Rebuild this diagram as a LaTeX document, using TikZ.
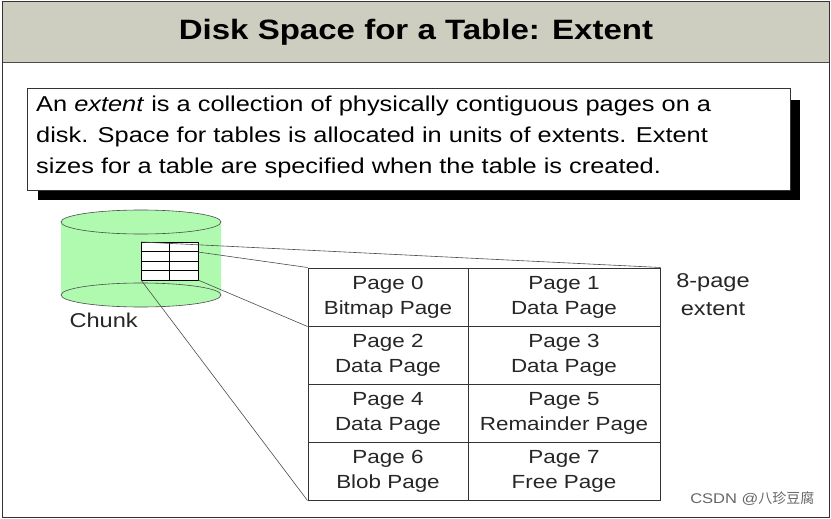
\documentclass[tikz,border=0pt]{standalone}
\usepackage{fontspec}
\setmainfont[FakeStretch=1.18]{Liberation Sans}
\newfontfamily\cjk{Noto Sans CJK SC}
\begin{document}
\begin{tikzpicture}[x=1pt,y=-1pt,
  cell/.style={draw=black!80,line width=1pt,minimum width=160pt,minimum height=58pt,inner sep=0pt,align=center,font=\fontsize{19}{25}\selectfont,text=black!85},
  thin/.style={draw=black!70,line width=0.6pt}]
\useasboundingbox (0,0) rectangle (831,519);
\fill[white] (0,0) rectangle (831,519);
\fill[fill={rgb,255:red,206;green,206;blue,192}] (2,2) rectangle (829,62);
\draw[black!70,line width=0.8pt] (2,62) -- (829,62);
\draw[black!80,line width=1pt] (2,2) rectangle (829,517);
\node[font=\bfseries\fontsize{28}{32}\selectfont] (title) at (416,32) {Disk Space for a Table: Extent};
% text box
\fill[black] (38,100) rectangle (800,200);
\node[draw=black!80,fill=white,line width=0.8pt,minimum width=763pt,minimum height=102pt,anchor=north west,inner sep=0pt] (box) at (27,88) {};
\node[anchor=north west,align=left,font=\fontsize{21.5}{31}\selectfont,inner sep=0pt] (txt) at (36,96)
{An \textit{extent} is a collection of physically contiguous pages on a\\disk. Space for tables is allocated in units of extents. Extent\\sizes for a table are specified when the table is created.};
% cylinder
\fill[fill={rgb,255:red,176;green,250;blue,176}] (61,222) -- (61,295) arc[start angle=180,end angle=360,x radius=80,y radius=12] -- (221,222) -- cycle;
\draw[thin,fill={rgb,255:red,176;green,250;blue,176}] (141,295) ellipse[x radius=80,y radius=12];
\draw[thin,fill={rgb,255:red,176;green,250;blue,176}] (141,222) ellipse[x radius=80,y radius=12];
\node[font=\fontsize{20}{24}\selectfont,anchor=west,text=black!85] (chunk) at (66,320) {Chunk};
% small grid
\draw[black,line width=0.8pt,fill=white] (141,242) rectangle (198,280);
\foreach \yy in {251.5,261,270.5} \draw[black,line width=0.6pt] (141,\yy) -- (198,\yy);
\draw[black,line width=0.8pt] (169.5,242) -- (169.5,280);
\coordinate (g1) at (141,242); \coordinate (g2) at (198,252);
\coordinate (g3) at (198,280); \coordinate (g4) at (141,280);
% table
\node[cell] (p0) at (388,297) {Page 0\\Bitmap Page};
\node[cell,minimum width=192pt] (p1) at (564,297) {Page 1\\Data Page};
\node[cell] (p2) at (388,355) {Page 2\\Data Page};
\node[cell,minimum width=192pt] (p3) at (564,355) {Page 3\\Data Page};
\node[cell] (p4) at (388,413) {Page 4\\Data Page};
\node[cell,minimum width=192pt] (p5) at (564,413) {Page 5\\Remainder Page};
\node[cell] (p6) at (388,471) {Page 6\\Blob Page};
\node[cell,minimum width=192pt] (p7) at (564,471) {Page 7\\Free Page};
\draw[thin] (g1) -- (p1.north east);
\draw[thin] (g2) -- (p0.north west);
\draw[thin] (g3) -- (p0.south west);
\draw[thin] (g4) -- (p6.south west);
\node[font=\fontsize{20}{28}\selectfont,align=center,text=black!85] (ext) at (713,295) {8-page\\extent};
\node[font=\fontsize{14}{16}\selectfont,text=black!60,anchor=east] (csdn) at (818,499) {CSDN @{\cjk 八珍豆腐}};
\end{tikzpicture}
\end{document}
